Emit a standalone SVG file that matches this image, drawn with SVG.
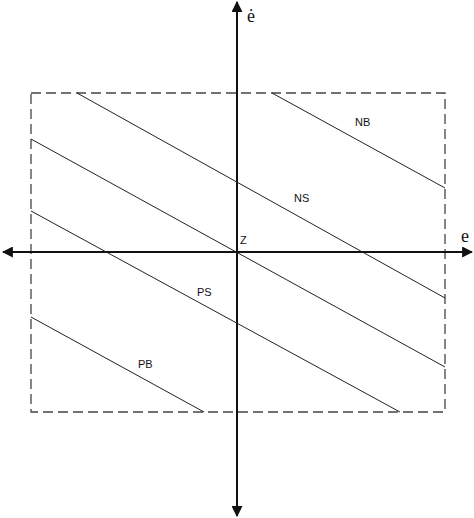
<svg xmlns="http://www.w3.org/2000/svg" width="474" height="518" viewBox="0 0 474 518">
<style>
.lbl{font-family:"Liberation Sans",Arial,sans-serif;font-size:11px;fill:#111}
.ax{font-family:"Liberation Serif","Times New Roman",serif;font-size:18px;fill:#111}
.diag{stroke:#222;stroke-width:1;fill:none}
.axis{stroke:#111;stroke-width:2;fill:none}
</style>
<defs>
<marker id="ah" viewBox="0 0 10 10" refX="9" refY="5" markerWidth="5.5" markerHeight="5.5" orient="auto" markerUnits="strokeWidth">
<path d="M0,0 L10,5 L0,10 z" fill="#111"/>
</marker>
</defs>
<rect id="region" x="31" y="93" width="414" height="319" fill="none" stroke="#444" stroke-width="1.3" stroke-dasharray="10,5"/>
<g id="connectors">
<line class="axis" x1="237" y1="252" x2="3" y2="252" marker-end="url(#ah)"/>
<line class="axis" x1="237" y1="252" x2="472" y2="252" marker-end="url(#ah)"/>
<line class="axis" x1="237" y1="252" x2="237" y2="2" marker-end="url(#ah)"/>
<line class="axis" x1="237" y1="252" x2="237" y2="516" marker-end="url(#ah)"/>
<line class="diag" x1="272" y1="93" x2="445" y2="188"/>
<line class="diag" x1="77" y1="93" x2="445" y2="298"/>
<line class="diag" x1="31" y1="139" x2="445" y2="367"/>
<line class="diag" x1="31" y1="211" x2="400" y2="412"/>
<line class="diag" x1="31" y1="317" x2="204" y2="412"/>
</g>
<g id="NB"><text class="lbl" x="355" y="126">NB</text></g>
<g id="NS"><text class="lbl" x="294" y="202">NS</text></g>
<g id="Z"><text class="lbl" x="240" y="244">Z</text></g>
<g id="PS"><text class="lbl" x="197" y="296">PS</text></g>
<g id="PB"><text class="lbl" x="138" y="368">PB</text></g>
<g id="e"><text class="ax" x="461" y="242">e</text></g>
<g id="edot"><text class="ax" x="247" y="22">ė</text></g>
</svg>
